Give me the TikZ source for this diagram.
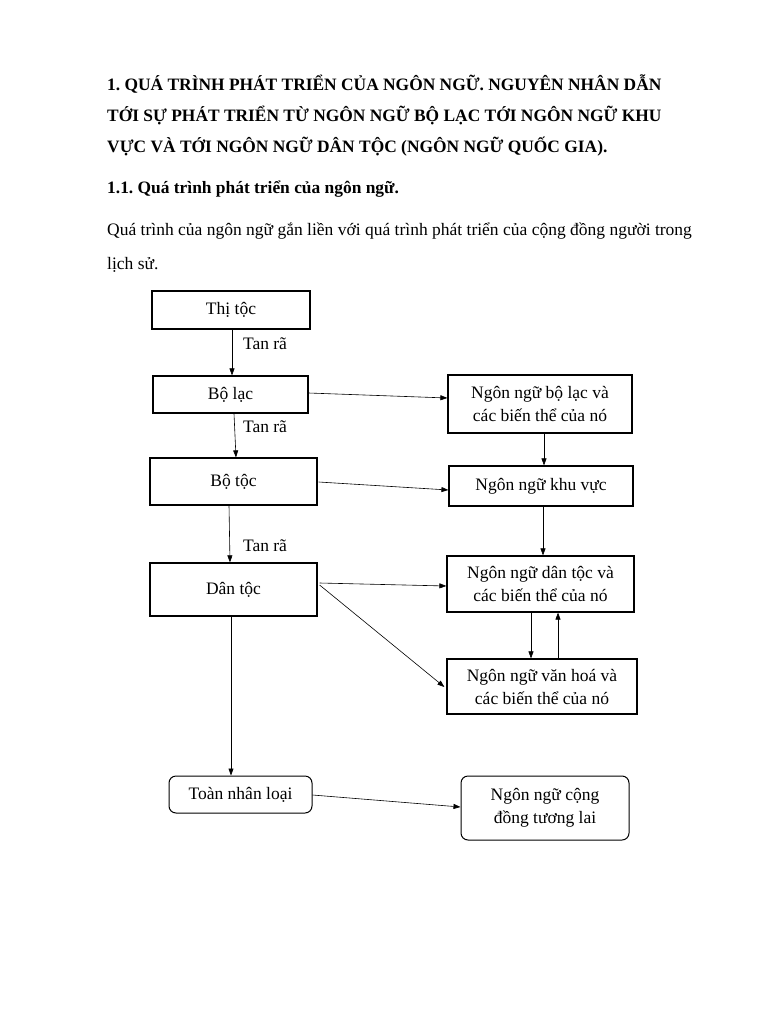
\documentclass[tikz,border=0pt]{standalone}
\usepackage{fontspec}
\setmainfont{Liberation Serif}
\usetikzlibrary{arrows.meta,calc}
\begin{document}
\frenchspacing
\begin{tikzpicture}[x=1pt,y=-1pt,
  box/.style={draw,line width=1.2pt,inner sep=0pt,align=center,font=\fontsize{17.5}{23}\selectfont},
  rbox/.style={box,line width=1pt,rounded corners=7pt},
  arr/.style={line width=0.6pt,-{Triangle[length=7pt,width=5pt]}},
  lbl/.style={font=\fontsize{17.5}{20}\selectfont,anchor=center},
  head/.style={anchor=base west,inner sep=0pt,font=\fontsize{17.4}{20}\selectfont\bfseries},
  body/.style={anchor=base west,inner sep=0pt,font=\fontsize{17.5}{20}\selectfont}]
\useasboundingbox[fill=white] (0,0) rectangle (768,1024);
% headings
\node[head] (t1) at (107,90.7) {1. QUÁ TRÌNH PHÁT TRIỂN CỦA NGÔN NGỮ. NGUYÊN NHÂN DẪN};
\node[head] (t2) at (107,122) {TỚI SỰ PHÁT TRIỂN TỪ NGÔN NGỮ BỘ LẠC TỚI NGÔN NGỮ KHU};
\node[head] (t3) at (107,152.7) {VỰC VÀ TỚI NGÔN NGỮ DÂN TỘC (NGÔN NGỮ QUỐC GIA).};
\node[head] (t4) at (107,193.3) {1.1. Quá trình phát triển của ngôn ngữ.};
\node[body] (p1) at (107,236) {Quá trình của ngôn ngữ gắn liền với quá trình phát triển của cộng đồng người trong};
\node[body] (p2) at (107,269) {lịch sử.};
% boxes
\node[box,minimum width=158pt,minimum height=38pt] (thitoc) at (231,310) {Thị tộc};
\node[box,minimum width=155pt,minimum height=37pt] (bolac) at (230.5,394.5) {Bộ lạc};
\node[box,minimum width=184pt,minimum height=58pt] (nnbolac) at (540,404) {Ngôn ngữ bộ lạc và\\các biến thể của nó};
\node[box,minimum width=167pt,minimum height=47pt] (botoc) at (233.5,481.5) {Bộ tộc};
\node[box,minimum width=184pt,minimum height=40pt] (nnkhuvuc) at (541,486) {Ngôn ngữ khu vực};
\node[box,minimum width=167pt,minimum height=53pt] (dantoc) at (233.5,589.5) {Dân tộc};
\node[box,minimum width=187pt,minimum height=56pt] (nndantoc) at (540.5,584) {Ngôn ngữ dân tộc và\\các biến thể của nó};
\node[box,minimum width=190pt,minimum height=55pt] (nnvanhoa) at (542,686.5) {Ngôn ngữ văn hoá và\\các biến thể của nó};
\node[rbox,minimum width=143pt,minimum height=37pt] (toan) at (240.5,794.5) {Toàn nhân loại};
\node[rbox,minimum width=168pt,minimum height=64pt] (congdong) at (545,808) {Ngôn ngữ cộng\\đồng tương lai};
% labels
\node[lbl] (tr1) at (265,344) {Tan rã};
\node[lbl] (tr2) at (265,427) {Tan rã};
\node[lbl] (tr3) at (265,546) {Tan rã};
% connectors
\draw[arr] ($(thitoc.south)+(1,0)$) -- ($(bolac.north)+(1.5,0)$);
\draw[arr] ($(bolac.south)+(3.5,0)$) -- ($(botoc.north)+(2.5,0)$);
\draw[arr] ($(botoc.south)+(-4.5,0)$) -- ($(dantoc.north)+(-3.5,0)$);
\draw[arr] ($(dantoc.south)+(-2.5,0)$) -- ($(toan.north)+(-9.5,0)$);
\draw[arr] ($(bolac.east)+(0,-1.5)$) -- ($(nnbolac.west)+(0,-6)$);
\draw[arr] ($(botoc.east)+(1,0.5)$) -- ($(nnkhuvuc.west)+(0,4)$);
\draw[arr] ($(nnbolac.south)+(4,0)$) -- ($(nnkhuvuc.north)+(3,0)$);
\draw[arr] ($(nnkhuvuc.south)+(2,0)$) -- ($(nndantoc.north)+(2.5,0)$);
\draw[arr] ($(dantoc.east)+(2,-6.5)$) -- ($(nndantoc.west)+(0,2)$);
\draw[arr] ($(dantoc.east)+(2,-4.5)$) -- ($(nnvanhoa.west)+(-2,0.5)$);
\draw[arr] ($(nndantoc.south)+(-9.5,0)$) -- ($(nnvanhoa.north)+(-11,0)$);
\draw[arr] ($(nnvanhoa.north)+(16,0)$) -- ($(nndantoc.south)+(17.5,0)$);
\draw[arr] ($(toan.east)+(0,0.5)$) -- ($(congdong.west)+(0,-1)$);
\end{tikzpicture}
\end{document}
